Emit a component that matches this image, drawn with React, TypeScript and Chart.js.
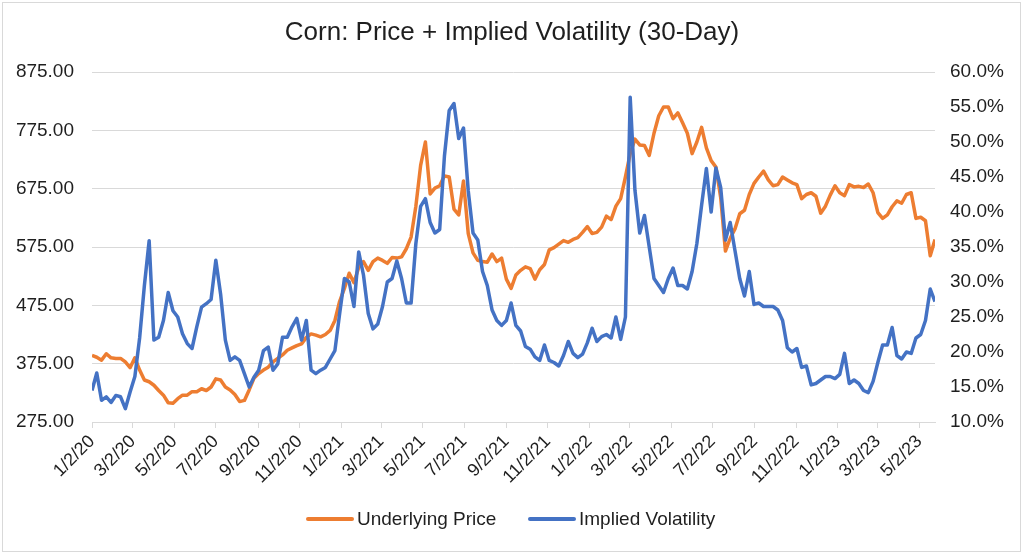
import { useEffect, useRef } from "react";
import { Chart, registerables } from "chart.js";

Chart.register(...registerables);

// Weekly samples starting 1/2/20 (one value per week).
const SAMPLE_STEP_DAYS = 7;
const START_DATE = "1/2/20";

const TICK_LABELS = [
  "1/2/20", "3/2/20", "5/2/20", "7/2/20", "9/2/20", "11/2/20",
  "1/2/21", "3/2/21", "5/2/21", "7/2/21", "9/2/21", "11/2/21",
  "1/2/22", "3/2/22", "5/2/22", "7/2/22", "9/2/22", "11/2/22",
  "1/2/23", "3/2/23", "5/2/23",
];

const PRICE = [
  389, 386, 381, 392, 385, 384, 384, 378, 368, 385,
  364, 347, 344, 338, 329, 321, 308, 307, 315, 321,
  321, 327, 327, 332, 329, 335, 349, 347, 335, 330,
  322, 310, 312, 330, 350, 358, 364, 369, 378, 384,
  390, 398, 402, 406, 409, 420, 426, 424, 421, 425,
  432, 449, 482, 504, 530, 514, 540, 550, 535, 550,
  556, 552, 547, 557, 556, 558, 572, 592, 645, 715,
  755, 666, 676, 680, 697, 695, 640, 630, 688, 598,
  565, 552, 550, 549, 563, 550, 556, 520, 504, 527,
  535, 541, 538, 520, 536, 545, 570, 574, 580, 586,
  583, 588, 591, 600, 610, 598, 600, 609, 628, 622,
  645, 658, 695, 735, 760, 750, 749, 732, 770, 800,
  815, 815, 795, 805, 788, 770, 735, 755, 780, 745,
  723, 712, 660, 568, 590, 606, 632, 638, 665, 684,
  695, 705, 690, 680, 682, 695, 690, 685, 682, 658,
  665, 668, 662, 633, 645, 664, 680, 668, 663, 682,
  678, 679, 677, 683, 668, 634, 624, 630, 644, 654,
  650, 665, 668, 624, 626, 620, 560, 588,
];

// 30-day implied volatility, in percent
const IMPLIED_VOL = [
  14.5, 17.0, 13.1, 13.6, 12.8, 13.8, 13.6, 11.9, 14.3, 16.5,
  22.0, 29.5, 35.9, 21.7, 22.1, 24.5, 28.5, 25.9, 25.0, 22.6,
  21.2, 20.5, 23.6, 26.4, 26.9, 27.5, 33.1, 28.3, 21.7, 18.8,
  19.3, 18.8, 16.9, 15.0, 16.4, 17.4, 20.2, 20.7, 17.4, 18.3,
  22.1, 22.1, 23.6, 24.8, 21.7, 24.5, 17.4, 16.9, 17.4, 17.8,
  19.0, 20.2, 25.5, 30.5, 30.0, 26.5, 34.3, 31.0, 25.5, 23.3,
  24.0, 26.5, 30.0, 30.5, 33.0, 30.5, 27.0, 27.0, 35.5, 40.8,
  41.9, 38.5, 37.0, 37.5, 48.0, 54.5, 55.5, 50.5, 52.0, 43.0,
  37.0, 36.0, 31.5, 29.5, 26.0, 24.5, 23.8, 24.5, 27.0, 23.8,
  23.0, 20.8, 20.4, 19.3, 18.8, 21.0, 18.8, 18.5, 18.0, 19.5,
  21.5, 19.8, 19.2, 19.7, 21.3, 23.4, 21.5, 22.2, 22.5, 22.0,
  25.0, 21.8, 25.0, 56.4, 43.1, 37.0, 39.5, 35.0, 30.5, 29.5,
  28.5, 30.5, 32.0, 29.5, 29.5, 29.0, 31.5, 35.5, 41.0, 46.2,
  40.0, 46.3, 43.5, 36.0, 38.5, 34.5, 30.5, 28.0, 31.5, 26.8,
  27.0, 26.5, 26.5, 26.5, 26.0, 24.5, 20.6, 20.0, 20.5, 17.8,
  18.0, 15.3, 15.5, 16.0, 16.5, 16.5, 16.2, 16.8, 19.8, 15.5,
  16.0, 15.5, 14.5, 14.2, 15.8, 18.5, 21.0, 21.0, 23.5, 19.5,
  19.0, 20.0, 19.8, 22.0, 22.5, 24.5, 29.0, 27.2,
];

const ORANGE = "#ED7D31";
const BLUE = "#4472C4";
const GRID = "#d9d9d9";
const TEXT = "#1f1f1f";
const FONT = "'Liberation Sans', Arial, Helvetica, sans-serif";

const MS_PER_DAY = 86400000;
function toUtc(label: string): number {
  const [m, d, y] = label.split("/").map(Number);
  return Date.UTC(2000 + y, m - 1, d);
}
function dayIndex(label: string): number {
  return Math.round((toUtc(label) - toUtc(START_DATE)) / MS_PER_DAY);
}

const TICK_DAYS = TICK_LABELS.map(dayIndex);
const LAST_DAY = (PRICE.length - 1) * SAMPLE_STEP_DAYS;

const frame = {
  id: "frame",
  beforeDraw(chart: Chart) {
    const { ctx, width, height } = chart;
    ctx.save();
    ctx.fillStyle = "#ffffff";
    ctx.fillRect(0, 0, width, height);
    ctx.strokeStyle = GRID;
    ctx.lineWidth = 1;
    ctx.strokeRect(2.5, 2.5, width - 6, height - 6);
    ctx.restore();
  },
  afterDraw(chart: Chart) {
    const { ctx } = chart;
    ctx.save();
    // title
    ctx.fillStyle = TEXT;
    ctx.font = `26px ${FONT}`;
    ctx.textAlign = "center";
    ctx.textBaseline = "middle";
    ctx.fillText("Corn: Price + Implied Volatility (30-Day)", 512, 33);
    // legend
    const items = [
      { label: "Underlying Price", color: ORANGE, x: 308 },
      { label: "Implied Volatility", color: BLUE, x: 530 },
    ];
    ctx.font = `19px ${FONT}`;
    ctx.textAlign = "left";
    for (const it of items) {
      ctx.strokeStyle = it.color;
      ctx.lineWidth = 4;
      ctx.lineCap = "round";
      ctx.beginPath();
      ctx.moveTo(it.x, 519);
      ctx.lineTo(it.x + 44, 519);
      ctx.stroke();
      ctx.fillStyle = TEXT;
      ctx.fillText(it.label, it.x + 49, 520);
    }
    ctx.restore();
  },
};

export default function App() {
  const ref = useRef<HTMLCanvasElement | null>(null);

  useEffect(() => {
    if (!ref.current) return;
    const chart = new Chart(ref.current, {
      type: "line",
      data: {
        datasets: [
          {
            label: "Underlying Price",
            data: PRICE.map((v, i) => ({ x: i * SAMPLE_STEP_DAYS, y: v })),
            borderColor: ORANGE,
            borderWidth: 3.5,
            borderJoinStyle: "round",
            pointRadius: 0,
            yAxisID: "y",
            order: 2,
          },
          {
            label: "Implied Volatility",
            data: IMPLIED_VOL.map((v, i) => ({ x: i * SAMPLE_STEP_DAYS, y: v })),
            borderColor: BLUE,
            borderWidth: 3.5,
            borderJoinStyle: "round",
            pointRadius: 0,
            yAxisID: "y1",
            order: 1,
          },
        ],
      },
      options: {
        animation: false,
        responsive: false,
        maintainAspectRatio: false,
        layout: { padding: { top: 72, left: 4, right: 0, bottom: 0 } },
        plugins: {
          legend: { display: false },
          title: { display: false },
          tooltip: { enabled: false },
        },
        scales: {
          x: {
            type: "linear",
            min: 0,
            max: LAST_DAY,
            afterBuildTicks: (scale: any) => {
              scale.ticks = TICK_DAYS.map((value) => ({ value }));
            },
            afterFit: (scale: any) => {
              scale.height = 133;
            },
            ticks: {
              autoSkip: false,
              minRotation: 45,
              maxRotation: 45,
              padding: 3,
              color: TEXT,
              font: { family: FONT, size: 18 },
              callback: (v: any) => {
                const k = TICK_DAYS.indexOf(Number(v));
                return k >= 0 ? TICK_LABELS[k] : "";
              },
            },
            grid: {
              drawOnChartArea: false,
              drawTicks: true,
              tickLength: 6,
              color: GRID,
            },
            border: { display: true, color: GRID },
          },
          y: {
            position: "left",
            min: 275,
            max: 875,
            afterFit: (scale: any) => {
              scale.width = 88;
            },
            ticks: {
              stepSize: 100,
              padding: 18,
              color: TEXT,
              font: { family: FONT, size: 19 },
              callback: (v: any) => Number(v).toFixed(2),
            },
            grid: { color: GRID, drawTicks: false },
            border: { display: false },
          },
          y1: {
            position: "right",
            min: 10,
            max: 60,
            afterFit: (scale: any) => {
              scale.width = 89;
            },
            ticks: {
              stepSize: 5,
              padding: 15,
              color: TEXT,
              font: { family: FONT, size: 19 },
              callback: (v: any) => Number(v).toFixed(1) + "%",
            },
            grid: { drawOnChartArea: false, drawTicks: false },
            border: { display: false },
          },
        },
      },
      plugins: [frame],
    });
    return () => chart.destroy();
  }, []);

  return (
    <div style={{ position: "fixed", left: 0, top: 0, width: 1024, height: 555, background: "#fff" }}>
      <canvas ref={ref} width={1024} height={555} />
    </div>
  );
}
